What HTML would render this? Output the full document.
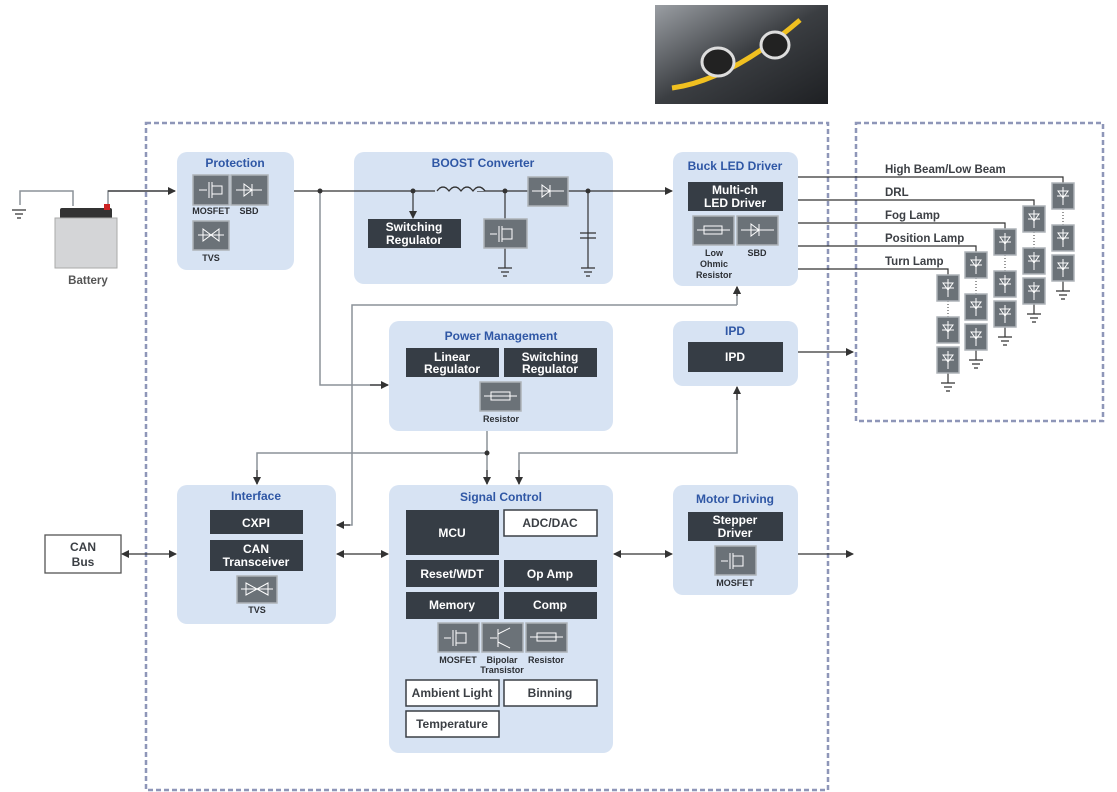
<!DOCTYPE html>
<html><head><meta charset="utf-8"><style>
body{margin:0;background:#fff}
svg{display:block;font-family:"Liberation Sans",Arial,sans-serif;font-weight:bold}
.p{fill:#d7e3f3}
.t{fill:#2f57a5;font-size:12px;text-anchor:middle}
.d{fill:#363d45}
.w{fill:#fff;stroke:#3a3f45;stroke-width:1.5}
.dt{fill:#fff;font-size:12px;text-anchor:middle}
.wt{fill:#3b3f44;font-size:12px;text-anchor:middle}
.ic{fill:#6b7278;stroke:#aeb3b8;stroke-width:1.5}
.il{fill:#2d3035;font-size:9px;text-anchor:middle}
.ln{stroke:#8c9299;stroke-width:1.5;fill:none}
.bl{stroke:#333;stroke-width:1.2;fill:none}
.sy{stroke:#fff;stroke-width:1;fill:none}
.lt{fill:#3c3f44;font-size:11.5px}
</style></head><body>
<svg width="1117" height="792" viewBox="0 0 1117 792">
<defs>
<marker id="a" markerWidth="8" markerHeight="8" refX="7" refY="4" orient="auto" markerUnits="userSpaceOnUse"><path d="M0,0L8,4L0,8z" fill="#333"/></marker>
<marker id="as" markerWidth="8" markerHeight="8" refX="1" refY="4" orient="auto" markerUnits="userSpaceOnUse"><path d="M8,0L0,4L8,8z" fill="#333"/></marker>
<linearGradient id="hl" x1="0" y1="0" x2="1" y2="1"><stop offset="0" stop-color="#9a9ea3"/><stop offset="0.5" stop-color="#3b3e42"/><stop offset="1" stop-color="#1e2023"/></linearGradient>
<g id="led"><rect x="0" y="0" width="22" height="26" class="ic"/><path d="M11,4V22M5,13H17M6,8L11,15L16,8Z" class="sy"/></g>
<g id="gnd"><path d="M0,0H14M3,4H11M5,8H9" stroke="#333" stroke-width="1.2"/></g>
</defs>

<!-- headlight image -->
<rect x="655" y="5" width="173" height="99" fill="url(#hl)"/>
<path d="M672,88Q730,80 800,20" stroke="#f0c020" stroke-width="5" fill="none"/>
<ellipse cx="718" cy="62" rx="16" ry="14" stroke="#ddd" stroke-width="3" fill="#222"/>
<ellipse cx="775" cy="45" rx="14" ry="13" stroke="#ddd" stroke-width="3" fill="#222"/>

<!-- dashed frames -->
<rect x="146" y="123" width="682" height="667" fill="none" stroke="#8e96b8" stroke-width="2.5" stroke-dasharray="5,3"/>
<rect x="856" y="123" width="247" height="298" fill="none" stroke="#8e96b8" stroke-width="2.5" stroke-dasharray="5,3"/>

<!-- panels -->
<rect x="177" y="152" width="117" height="118" rx="10" class="p"/>
<rect x="354" y="152" width="259" height="132" rx="10" class="p"/>
<rect x="673" y="152" width="125" height="134" rx="10" class="p"/>
<rect x="389" y="321" width="224" height="110" rx="10" class="p"/>
<rect x="673" y="321" width="125" height="65" rx="10" class="p"/>
<rect x="177" y="485" width="159" height="139" rx="10" class="p"/>
<rect x="389" y="485" width="224" height="268" rx="10" class="p"/>
<rect x="673" y="485" width="125" height="110" rx="10" class="p"/>

<text x="235" y="167" class="t">Protection</text>
<text x="483" y="167" class="t">BOOST Converter</text>
<text x="735" y="170" class="t">Buck LED Driver</text>
<text x="501" y="340" class="t">Power Management</text>
<text x="735" y="335" class="t">IPD</text>
<text x="256" y="500" class="t">Interface</text>
<text x="501" y="501" class="t">Signal Control</text>
<text x="735" y="503" class="t">Motor Driving</text>

<!-- battery -->
<path d="M20,205V191H73V206M108,210V191H175" class="ln" stroke="#666"/>
<path d="M108,191H175" class="bl" marker-end="url(#a)"/>
<use href="#gnd" x="12" y="210"/>
<rect x="60" y="208" width="52" height="12" fill="#333" rx="2"/>
<rect x="104" y="204" width="6" height="6" fill="#c22"/>
<rect x="55" y="218" width="62" height="50" fill="#d4d5d7" stroke="#aaa"/>
<text x="88" y="284" font-size="11.5" fill="#555" text-anchor="middle">Battery</text>

<!-- main bus -->
<path d="M294,191H672" class="bl" marker-end="url(#a)"/>
<path d="M320,191V385H388" class="ln"/><path d="M370,385H388" class="bl" marker-end="url(#a)"/>
<circle cx="320" cy="191" r="2.5" fill="#333"/>
<circle cx="413" cy="191" r="2.5" fill="#333"/>
<circle cx="505" cy="191" r="2.5" fill="#333"/>
<circle cx="588" cy="191" r="2.5" fill="#333"/>
<path d="M413,191V218" class="bl" marker-end="url(#a)"/>
<path d="M437,191q6,-8 12,0q6,-8 12,0q6,-8 12,0q6,-8 12,0" stroke="#333" stroke-width="1.2" fill="#d7e3f3"/>
<rect x="435" y="188" width="42" height="6" fill="#d7e3f3"/>
<path d="M437,191q6,-8 12,0q6,-8 12,0q6,-8 12,0q6,-8 12,0" stroke="#333" stroke-width="1.2" fill="none"/>
<path d="M505,191V268M588,191V268M580,233H596M580,238H596" class="bl"/>
<use href="#gnd" x="498" y="268"/><use href="#gnd" x="581" y="268"/>

<!-- protection icons -->
<rect x="193" y="175" width="36" height="30" class="ic"/><path d="M199,190H207M209,182V198M212,182V198M212,186H222V194H212" class="sy"/>
<rect x="231" y="175" width="37" height="30" class="ic"/><path d="M236,190H262M244,184L252,190L244,196ZM252,184V196" class="sy"/>
<rect x="193" y="221" width="36" height="29" class="ic"/><path d="M198,235H224M203,229L211,235L203,241ZM219,229L211,235L219,241Z" class="sy"/>
<text x="211" y="214" class="il">MOSFET</text><text x="249" y="214" class="il">SBD</text><text x="211" y="261" class="il">TVS</text>

<!-- boost -->
<rect x="368" y="219" width="93" height="29" class="d"/>
<text x="414" y="231" class="dt">Switching</text><text x="414" y="244" class="dt">Regulator</text>
<rect x="484" y="219" width="43" height="29" class="ic"/><path d="M490,234H497M499,226V242M502,226V242M502,229H512V239H502" class="sy"/>
<rect x="528" y="177" width="40" height="29" class="ic"/><path d="M532,191H564M542,185L550,191L542,197ZM550,185V197" class="sy"/>

<!-- buck -->
<rect x="688" y="182" width="95" height="29" class="d"/>
<text x="735" y="194" class="dt">Multi-ch</text><text x="735" y="207" class="dt">LED Driver</text>
<rect x="693" y="216" width="41" height="29" class="ic"/><path d="M697,230H730M704,226H722V234H704Z" class="sy"/>
<rect x="737" y="216" width="41" height="29" class="ic"/><path d="M741,230H774M751,224L759,230L751,236ZM759,224V236" class="sy"/>
<text x="714" y="256" class="il">Low</text><text x="714" y="267" class="il">Ohmic</text><text x="714" y="278" class="il">Resistor</text>
<text x="757" y="256" class="il">SBD</text>

<!-- LED outputs -->
<g class="bl">
<path d="M798,177H1063V183M798,200H1034V206M798,223H1005V229M798,246H976V252M798,269H948V275"/>
</g>
<text x="885" y="173" class="lt">High Beam/Low Beam</text>
<text x="885" y="196" class="lt">DRL</text>
<text x="885" y="219" class="lt">Fog Lamp</text>
<text x="885" y="242" class="lt">Position Lamp</text>
<text x="885" y="265" class="lt">Turn Lamp</text>
<g stroke="#333" stroke-dasharray="1,2" stroke-width="1">
<path d="M1063,209V225M1034,232V248M1005,255V271M976,278V294M948,301V317"/></g>
<g class="bl"><path d="M1063,281V291M1034,304V314M1005,327V337M976,350V360M948,373V383"/></g>
<use href="#led" x="1052" y="183"/><use href="#led" x="1052" y="225"/><use href="#led" x="1052" y="255"/><use href="#gnd" x="1056" y="291"/>
<use href="#led" x="1023" y="206"/><use href="#led" x="1023" y="248"/><use href="#led" x="1023" y="278"/><use href="#gnd" x="1027" y="314"/>
<use href="#led" x="994" y="229"/><use href="#led" x="994" y="271"/><use href="#led" x="994" y="301"/><use href="#gnd" x="998" y="337"/>
<use href="#led" x="965" y="252"/><use href="#led" x="965" y="294"/><use href="#led" x="965" y="324"/><use href="#gnd" x="969" y="360"/>
<use href="#led" x="937" y="275"/><use href="#led" x="937" y="317"/><use href="#led" x="937" y="347"/><use href="#gnd" x="941" y="383"/>

<!-- power mgmt -->
<rect x="406" y="348" width="93" height="29" class="d"/>
<text x="452" y="361" class="dt">Linear</text><text x="452" y="373" class="dt">Regulator</text>
<rect x="504" y="348" width="93" height="29" class="d"/>
<text x="550" y="361" class="dt">Switching</text><text x="550" y="373" class="dt">Regulator</text>
<rect x="480" y="382" width="41" height="29" class="ic"/><path d="M484,396H517M491,392H510V400H491Z" class="sy"/>
<text x="501" y="422" class="il">Resistor</text>

<!-- IPD -->
<rect x="688" y="342" width="95" height="30" class="d"/><text x="735" y="361" class="dt">IPD</text>
<path d="M798,352H853" class="bl" marker-end="url(#a)"/>

<!-- feedback lines -->
<path d="M737,305V287" class="ln" marker-end="url(#a)"/><path d="M737,305H352V525H337" class="ln"/>
<path d="M350,525H337" class="bl" marker-end="url(#a)"/>
<path d="M737,296V287" class="bl" marker-end="url(#a)"/>
<path d="M487,431V484" class="ln"/><path d="M487,470V484" class="bl" marker-end="url(#a)"/>
<path d="M257,484V453H487" class="ln"/><path d="M257,470V484" class="bl" marker-end="url(#a)"/>
<circle cx="487" cy="453" r="2.5" fill="#333"/>
<path d="M519,484V453H737V387" class="ln"/><path d="M519,470V484" class="bl" marker-end="url(#a)"/>
<path d="M737,400V387" class="bl" marker-end="url(#a)"/>

<!-- interface -->
<rect x="210" y="510" width="93" height="24" class="d"/><text x="256" y="527" class="dt">CXPI</text>
<rect x="210" y="540" width="93" height="31" class="d"/>
<text x="256" y="553" class="dt">CAN</text><text x="256" y="566" class="dt">Transceiver</text>
<rect x="237" y="576" width="40" height="27" class="ic"/><path d="M241,589H273M246,583L257,589L246,595ZM268,583L257,589L268,595Z" class="sy"/>
<text x="257" y="613" class="il">TVS</text>

<rect x="45" y="535" width="76" height="38" fill="#fff" stroke="#555" stroke-width="1.3"/>
<text x="83" y="551" class="wt">CAN</text><text x="83" y="566" class="wt">Bus</text>

<path d="M122,554H176" class="bl" marker-start="url(#as)" marker-end="url(#a)"/>
<path d="M337,554H388" class="bl" marker-start="url(#as)" marker-end="url(#a)"/>
<path d="M614,554H672" class="bl" marker-start="url(#as)" marker-end="url(#a)"/>
<path d="M798,554H853" class="bl" marker-end="url(#a)"/>

<!-- signal control -->
<rect x="406" y="510" width="93" height="45" class="d"/><text x="452" y="537" class="dt">MCU</text>
<rect x="504" y="510" width="93" height="26" class="w"/><text x="550" y="527" class="wt">ADC/DAC</text>
<rect x="406" y="560" width="93" height="27" class="d"/><text x="452" y="578" class="dt">Reset/WDT</text>
<rect x="504" y="560" width="93" height="27" class="d"/><text x="550" y="578" class="dt">Op Amp</text>
<rect x="406" y="592" width="93" height="27" class="d"/><text x="452" y="609" class="dt">Memory</text>
<rect x="504" y="592" width="93" height="27" class="d"/><text x="550" y="609" class="dt">Comp</text>
<rect x="438" y="623" width="41" height="29" class="ic"/><path d="M444,638H451M453,630V646M456,630V646M456,633H466V643H456" class="sy"/>
<rect x="482" y="623" width="41" height="29" class="ic"/><path d="M490,638H497M498,629V647M498,634L510,628M498,642L510,648" class="sy"/>
<rect x="526" y="623" width="41" height="29" class="ic"/><path d="M530,637H563M537,633H556V641H537Z" class="sy"/>
<text x="458" y="663" class="il">MOSFET</text><text x="502" y="663" class="il">Bipolar</text><text x="502" y="673" class="il">Transistor</text><text x="546" y="663" class="il">Resistor</text>
<rect x="406" y="680" width="93" height="26" class="w"/><text x="452" y="697" class="wt">Ambient Light</text>
<rect x="504" y="680" width="93" height="26" class="w"/><text x="550" y="697" class="wt">Binning</text>
<rect x="406" y="711" width="93" height="26" class="w"/><text x="452" y="728" class="wt">Temperature</text>

<!-- motor -->
<rect x="688" y="512" width="95" height="29" class="d"/>
<text x="735" y="524" class="dt">Stepper</text><text x="735" y="537" class="dt">Driver</text>
<rect x="715" y="546" width="41" height="29" class="ic"/><path d="M721,561H728M730,553V569M733,553V569M733,556H743V566H733" class="sy"/>
<text x="735" y="586" class="il">MOSFET</text>
</svg>
</body></html>
